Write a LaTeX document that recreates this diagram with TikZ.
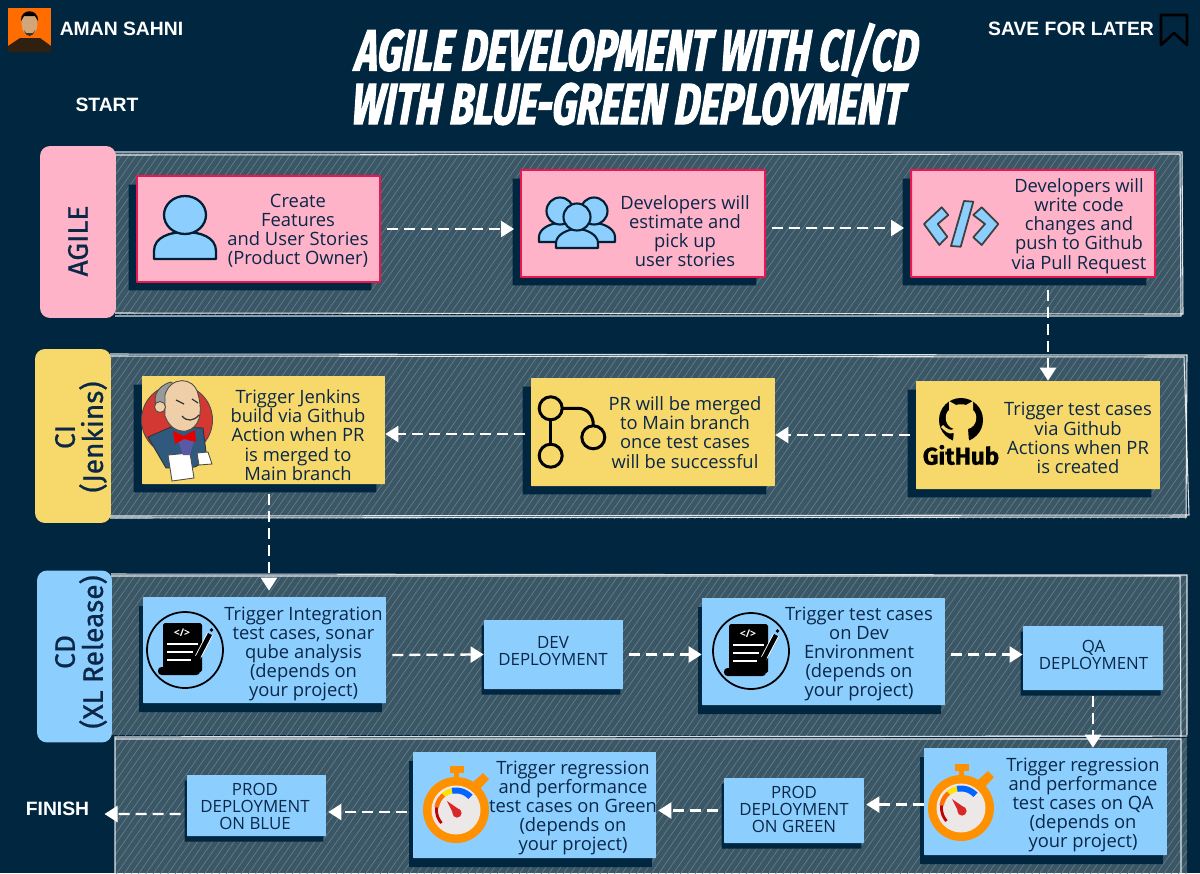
\documentclass[tikz,border=0pt]{standalone}
\usepackage{fontspec}
\setmainfont{Open Sans}
\newfontfamily\titlefont[FakeStretch=0.67,FakeBold=2,FakeSlant=0.08]{Fira Sans}
\newfontfamily\headfont{Liberation Sans}
\newfontfamily\tabfont[FakeBold=0.8]{Fira Sans}
\usetikzlibrary{arrows.meta}
\usetikzlibrary{patterns.meta, shadows}

\definecolor{navy}{HTML}{01263F}
\definecolor{inktext}{HTML}{0A2748}
\definecolor{lanebase}{HTML}{3B5766}
\definecolor{lanehatch}{HTML}{66808E}
\definecolor{pinkbox}{HTML}{FFB3C8}
\definecolor{redrim}{HTML}{E8174F}
\definecolor{yellowbox}{HTML}{F7D96B}
\definecolor{bluebox}{HTML}{8CCFFF}
\definecolor{watchorange}{HTML}{FF9100}
\definecolor{watchface}{HTML}{EDE8E8}
\definecolor{jenkinsred}{HTML}{D33833}
\definecolor{jenkinsskin}{HTML}{EFCFA8}
\definecolor{jenkinssuit}{HTML}{2F5A7E}

\tikzset{
  stopwatch/.pic={
    \fill[watchorange] (-6,-44) rectangle (8,-37);
    \fill[watchorange] (-2,-38) rectangle (3,-30);
    \fill[watchorange] (16,-27) -- (27,-37) -- (33,-31) -- (23,-20) -- cycle;
    \fill[watchorange] (0,0) circle (33);
    \fill[watchface] (0,0) circle (24.5);
    \draw[line width=3.4pt,color=blue!60!cyan] plot[domain=42:102,samples=12] ({19.5*cos(\x)},{-19.5*sin(\x)});
    \draw[line width=3pt,color=yellow!85!orange] plot[domain=102:130,samples=8] ({19.5*cos(\x)},{-19.5*sin(\x)});
    \draw[line width=2.6pt,color=orange!90!red] plot[domain=130:172,samples=8] ({19.5*cos(\x)},{-19.5*sin(\x)});
    \draw[line width=1.6pt,color=red!75!black] plot[domain=172:222,samples=8] ({19.5*cos(\x)},{-19.5*sin(\x)});
    \fill[red!70!gray] (-9,-9) -- (4,0) -- (-2,5) -- cycle;
    \fill[red!70!gray] (1,3) circle (4.6);
  },
  scrolldoc/.pic={
    \draw[black,line width=1pt] (0,0) circle (38);
    \fill[black,rounded corners=1pt] (-22,-27) rectangle (17,22);
    \fill[black,rounded corners=2pt] (-27,17) rectangle (15,25);
    \draw[white,line width=0.8pt] (-18,-6) -- (13,-6) (-18,2) -- (8,2) (-18,10) -- (6,10);
    \node[text=white,font=\fontsize{6}{6}\selectfont\bfseries,inner sep=0] (tag) at (-3,-17) {</>};
    \draw[white,line width=3.6pt] (13,7) -- (25,-16);
    \draw[black,line width=2.6pt] (13,7) -- (25,-16);
    \fill[black] (9,14) -- (11.5,5) -- (16,7.5) -- cycle;
    \fill[black] (26.5,-20) circle (1.8);
  },
  personshape/.pic={
    \draw[fill=bluebox,draw=navy!80!black,line width=1.3pt,line join=round]
      (-31,31) -- (-31,23) .. controls (-31,9) and (-15,4) .. (0,4)
      .. controls (15,4) and (31,9) .. (31,23) -- (31,31) -- cycle;
    \draw[fill=bluebox,draw=navy!80!black,line width=1.3pt] (0,-13) ellipse (21 and 19);
  },
  smallperson/.pic={
    \draw[fill=bluebox,draw=navy!80!black,line width=1.2pt,line join=round]
      (-21,16) -- (-21,11) .. controls (-21,3) and (-10,-3) .. (0,-3)
      .. controls (10,-3) and (21,3) .. (21,11) -- (21,16) -- cycle;
    \draw[fill=bluebox,draw=navy!80!black,line width=1.2pt] (0,-15) circle (13.5);
  }
}

\begin{document}
\begin{tikzpicture}[x=0.02cm,y=-0.02cm,>=Stealth]
  \tikzstyle{lanefill}=[preaction={fill=lanebase},pattern={Lines[angle=55,distance=0.12cm,line width=0.35pt]},pattern color=lanehatch]
  \tikzstyle{lanerim}=[white,opacity=0.85,line width=0.6pt]
  \tikzstyle{tab}=[rounded corners=0.2cm,inner sep=0]
  \tikzstyle{tabwords}=[rotate=90,inner sep=0,align=center,text=inktext,
                   font=\fontsize{16}{16}\tabfont]
  \tikzstyle{card}=[inner sep=0,rounded corners=0.3pt]
  \tikzstyle{pinkcard}=[card,fill=pinkbox,draw=redrim,line width=1.1pt,
                        copy shadow={shadow xshift=-0.17cm,shadow yshift=-0.17cm,fill=navy,draw=none}]
  \tikzstyle{yellowcard}=[card,fill=yellowbox,
                        copy shadow={shadow xshift=-0.17cm,shadow yshift=-0.17cm,fill=navy,draw=none}]
  \tikzstyle{bluecard}=[card,fill=bluebox,
                        copy shadow={shadow xshift=-0.08cm,shadow yshift=-0.18cm,fill=navy,draw=none}]
  \tikzstyle{bluesmall}=[card,fill=bluebox,
                        copy shadow={shadow xshift=-0.05cm,shadow yshift=-0.11cm,fill=navy,draw=none}]
  \tikzstyle{words}=[inner sep=0,align=center,text=inktext,font=\fontsize{10.45}{10.9}\selectfont]
  \tikzstyle{capwords}=[inner sep=0,align=center,text=inktext,font=\fontsize{9.6}{9.6}\selectfont]
  \tikzstyle{head}=[inner sep=0,text=white,font=\fontsize{11}{12}\headfont\bfseries]
  \tikzstyle{flow}=[->,>={Triangle[length=0.26cm,width=0.32cm]},white,line width=1.3pt,
                    dash pattern=on 0.22cm off 0.12cm,shorten >=0.12cm,shorten <=0.12cm]

  \useasboundingbox (0,0) rectangle (1200,873);
  \fill[navy] (0,0) rectangle (1200,873);

  % header
  \fill[orange!85!red] (8,8) rectangle (51,52);
  \fill[black!75!brown] (8,52) -- (8,46) -- (20,38) -- (40,38) -- (51,46) -- (51,52) -- cycle;
  \fill[brown!70!white] (29.5,24) ellipse (8 and 11);
  \fill[black] (21,21) .. controls (20,8) and (39,8) .. (38,21) -- (35,16) -- (24,16) -- cycle;
  \fill[black!80] (24,30) .. controls (26,38) and (33,38) .. (35,30) -- (33,33) -- (26,33) -- cycle;
  \node[head] (author) at (121.5,29) {AMAN SAHNI};
  \node[head] (save) at (1071,29) {SAVE FOR LATER};
  \draw[black,line width=1.5pt,line join=round] (1161,15) -- (1187,15) -- (1187,45) -- (1174,33) -- (1161,45) -- cycle;
  \node[inner sep=0,text=white,font=\fontsize{33}{33}\titlefont\bfseries\itshape] (title1) at (636,50) {AGILE DEVELOPMENT WITH CI/CD};
  \node[inner sep=0,text=white,font=\fontsize{33}{33}\titlefont\bfseries\itshape] (title2) at (627,104) {WITH BLUE-GREEN DEPLOYMENT};
  \node[head] (start) at (107,104.5) {START};
  \node[head] (finish) at (57.5,808.5) {FINISH};

  % lanes
  \fill[lanefill] (115,153) rectangle (1183,314);
  \draw[lanerim] (115,152) -- (1182,152) -- (1183,314) -- (115,313);
  \draw[lanerim] (115,155) -- (1180,154) -- (1181,316) -- (115,316);
  \fill[lanefill] (110,355) rectangle (1187,518);
  \draw[lanerim] (110,354) -- (1187,355) -- (1186,517) -- (110,518);
  \draw[lanerim] (110,356) -- (1184,357) -- (1189,515) -- (110,516);
  \fill[lanefill] (111,575) rectangle (1187,735);
  \draw[lanerim] (111,574) -- (1187,575) -- (1187,735);
  \draw[lanerim] (111,576) -- (1180,576) -- (1181,737);
  \fill[lanefill] (115,738) rectangle (1187,873);
  \draw[lanerim,line width=0.8pt] (115,873) -- (115,737) -- (1187,736) (115,739) -- (1181,739) -- (1181,873);

  \node[tab,fill=pinkbox,minimum width=1.52cm,minimum height=3.44cm] (agile) at (78,232) {};
  \node[tab,fill=yellowbox,minimum width=1.52cm,minimum height=3.48cm] (ci) at (73,436) {};
  \node[tab,fill=bluebox,minimum width=1.5cm,minimum height=3.44cm] (cd) at (74.5,656.5) {};
  \node[tabwords] (agiletxt) at (78,241) {AGILE};
  \node[tabwords] (citxt) at (81,437) {CI\\(Jenkins)};
  \node[tabwords] (cdtxt) at (81,652) {CD\\(XL Release)};

  % agile row
  \node[pinkcard,minimum width=4.86cm,minimum height=2.12cm] (create) at (258.5,229) {};
  \node[pinkcard,minimum width=4.88cm,minimum height=2.14cm] (estimate) at (643,223.5) {};
  \node[pinkcard,minimum width=4.88cm,minimum height=2.14cm] (push) at (1033,223.5) {};
  \node[words] (createtxt) at (298,231) {Create\\Features\\and User Stories\\(Product Owner)};
  \node[words] (estimatetxt) at (685,231) {Developers will\\estimate and\\pick up\\user stories};
  \node[words] (pushtxt) at (1079,226) {Developers will\\write code\\changes and\\push to Github\\via Pull Request};

  \pic (owner) at (185,228) {personshape};
  \pic (devleft) at (560,226) {smallperson};
  \pic (devright) at (594,226) {smallperson};
  \pic (devmid) at (577,232) {smallperson};
  \draw[fill=bluebox,draw=navy!70!brown,line width=1pt,line join=round]
    (941.7,207.3) -- (948.3,215) -- (937.7,224) -- (947.3,236.7) -- (939.3,245) -- (924,224) -- cycle
    (964,201) -- (973.3,201.7) -- (960.7,246.7) -- (951,246) -- cycle
    (981.7,207.3) -- (998.3,224) -- (981.7,245) -- (973.3,237.3) -- (985,224) -- (973.3,215) -- cycle;

  % ci row
  \node[yellowcard,minimum width=4.88cm,minimum height=2.16cm] (testpr) at (1038,435) {};
  \node[yellowcard,minimum width=4.88cm,minimum height=2.16cm] (merge) at (653,432) {};
  \node[yellowcard,minimum width=4.86cm,minimum height=2.16cm] (build) at (263.5,430) {};
  \node[words] (testprtxt) at (1078,438) {Trigger test cases\\via Github\\Actions when PR\\is created};
  \node[words] (mergetxt) at (685,432.5) {PR will be merged\\to Main branch\\once test cases\\will be successful};
  \node[words] (buildtxt) at (298,435) {Trigger Jenkins\\build via Github\\Action when PR\\is merged to\\Main branch};

  \fill[black] (961,420) circle (22);
  \fill[yellowbox] (953,442) -- (954,429) .. controls (944,426) and (944,414) .. (949,410)
    -- (949,401) -- (956,405) .. controls (959,404) and (963,404) .. (966,405) -- (973,401)
    -- (973,410) .. controls (978,414) and (978,426) .. (968,429) -- (969,442) -- cycle;
  \fill[yellowbox] (954,433) .. controls (948,435) and (945,431) .. (941,427) -- (943,425) .. controls (947,429) and (950,431) .. (954,429) -- cycle;
  \node[inner sep=0,text=black,font=\fontsize{13.8}{14}\tabfont\bfseries] (githublogo) at (961,455) {GitHub};

  \draw[black,line width=1.7pt] (550.7,408.3) -- (550.7,455.7);
  \draw[black,line width=1.7pt] (562,408.3) -- (578,408.3) .. controls (587,408.3) and (593.3,415) .. (593.3,425);
  \draw[black,line width=1.7pt,fill=yellowbox] (550.7,408.3) circle (11.5);
  \draw[black,line width=1.7pt,fill=yellowbox] (550.7,455.7) circle (11.5);
  \draw[black,line width=1.7pt,fill=yellowbox] (593.3,437.3) circle (11.5);

  \draw[black!70,fill=jenkinsred,line width=0.5pt] (177,420) circle (35.5);
  \fill[jenkinssuit,draw=black!80,line width=0.5pt] (148,437) -- (171,427) -- (203,428) -- (207,460) -- (195,467) -- (166,468) -- cycle;
  \fill[white,draw=black!70,line width=0.5pt] (168,455) -- (190,453) -- (194,478) -- (172,481) -- cycle;
  \fill[white,draw=black!70,line width=0.5pt] (197,453) -- (208,452) -- (212,464) -- (199,465) -- cycle;
  \fill[blue!30!gray] (177,437) -- (195,437) -- (190,455) -- (183,455) -- cycle;
  \fill[red!90!black] (173,431) -- (184,436) -- (195,430) -- (196,442) -- (184,439) -- (175,444) -- cycle;
  \fill[gray!80,draw=black!70,line width=0.5pt] (160,412) .. controls (150,400) and (156,386) .. (171,382) -- (178,388) -- cycle;
  \fill[jenkinsskin,draw=black!70,line width=0.5pt] (165,395) .. controls (170,376) and (194,376) .. (198,394)
    .. controls (203,412) and (200,428) .. (186,431) .. controls (174,432) and (168,424) .. (165,416) -- cycle;
  \fill[jenkinsskin,draw=black!70,line width=0.5pt] (160,407) circle (5.5);
  \draw[black!80,line width=0.7pt] (176,400) -- (184,404) (192,399) -- (198,403) (182,416) .. controls (187,422) and (194,421) .. (199,415);

  % cd row
  \node[bluecard,minimum width=4.86cm,minimum height=2.12cm] (integration) at (264.5,650) {};
  \node[bluesmall,minimum width=2.78cm,minimum height=1.38cm] (devdeploy) at (553.5,654.5) {};
  \node[bluecard,minimum width=4.86cm,minimum height=2.14cm] (devtest) at (823.5,651.5) {};
  \node[bluesmall,minimum width=2.8cm,minimum height=1.28cm] (qadeploy) at (1093,658) {};
  \node[words] (integrationtxt) at (303.5,654) {Trigger Integration\\test cases, sonar\\qube analysis\\(depends on\\your project)};
  \node[capwords] (devdeploytxt) at (553,651) {DEV\\DEPLOYMENT};
  \node[words] (devtesttxt) at (859,654) {Trigger test cases\\on Dev\\Environment\\(depends on\\your project)};
  \node[capwords] (qadeploytxt) at (1093.5,655) {QA\\DEPLOYMENT};
  \pic (scrollint) at (185,650) {scrolldoc};
  \pic (scrolldev) at (751,651) {scrolldoc};

  % release row
  \node[bluecard,minimum width=4.86cm,minimum height=2.14cm] (regqa) at (1045.5,801.5) {};
  \node[bluesmall,minimum width=2.8cm,minimum height=1.3cm] (green) at (794,810.5) {};
  \node[bluecard,minimum width=4.86cm,minimum height=2.12cm] (reggreen) at (534.5,805) {};
  \node[bluesmall,minimum width=2.78cm,minimum height=1.22cm] (blue) at (256.5,805.5) {};
  \node[words] (regqatxt) at (1083,805) {Trigger regression\\and performance\\test cases on QA\\(depends on\\your project)};
  \node[capwords] (greentxt) at (794,809.5) {PROD\\DEPLOYMENT\\ON GREEN};
  \node[words] (reggreentxt) at (573,808) {Trigger regression\\and performance\\test cases on Green\\(depends on\\your project)};
  \node[capwords] (bluetxt) at (255,806.5) {PROD\\DEPLOYMENT\\ON BLUE};
  \pic (watchqa) at (961,808) {stopwatch};
  \pic (watchgreen) at (456,810) {stopwatch};

  % connectors
  \draw[flow] (create.east) -- (create.east -| estimate.west);
  \draw[flow] ([yshift=-0.09cm]estimate.east) -- ([yshift=-0.09cm]push.west);
  \draw[flow,shorten <=0.24cm,shorten >=0pt] ([xshift=0.3cm]push.south) -- ([xshift=0.3cm]push.south |- testpr.north);
  \draw[flow,shorten >=0pt] (testpr.west) -- (testpr.west -| merge.east);
  \draw[flow,shorten >=0pt] ([yshift=-0.04cm]merge.west) -- ([yshift=-0.04cm]merge.west -| build.east);
  \draw[flow,shorten <=0.2cm] ([xshift=0.11cm]build.south) -- ([xshift=0.11cm]build.south |- integration.north);
  \draw[flow,shorten >=0pt] (integration.east) ++(0,5) -- (devdeploy.west);
  \draw[flow,shorten >=0pt] (devdeploy.east) -- (devdeploy.east -| devtest.west);
  \draw[flow,shorten >=0pt] ([yshift=-0.06cm]devtest.east) -- ([yshift=-0.06cm]devtest.east -| qadeploy.west);
  \draw[flow,shorten >=0pt] (qadeploy.south) -- (qadeploy.south |- regqa.north);
  \draw[flow,shorten >=0.04cm,shorten <=0pt] ([yshift=-0.06cm]regqa.west) -- ([yshift=-0.06cm]regqa.west -| green.east);
  \draw[flow,shorten >=0.04cm] (green.west) -- (green.west -| reggreen.east);
  \draw[flow,shorten >=0.04cm] ([yshift=-0.14cm]reggreen.west) -- ([yshift=-0.14cm]reggreen.west -| blue.east);
  \draw[flow,shorten >=0.3cm] ([yshift=-0.17cm]blue.west) -- ([yshift=-0.11cm]finish.east);
\end{tikzpicture}
\end{document}
